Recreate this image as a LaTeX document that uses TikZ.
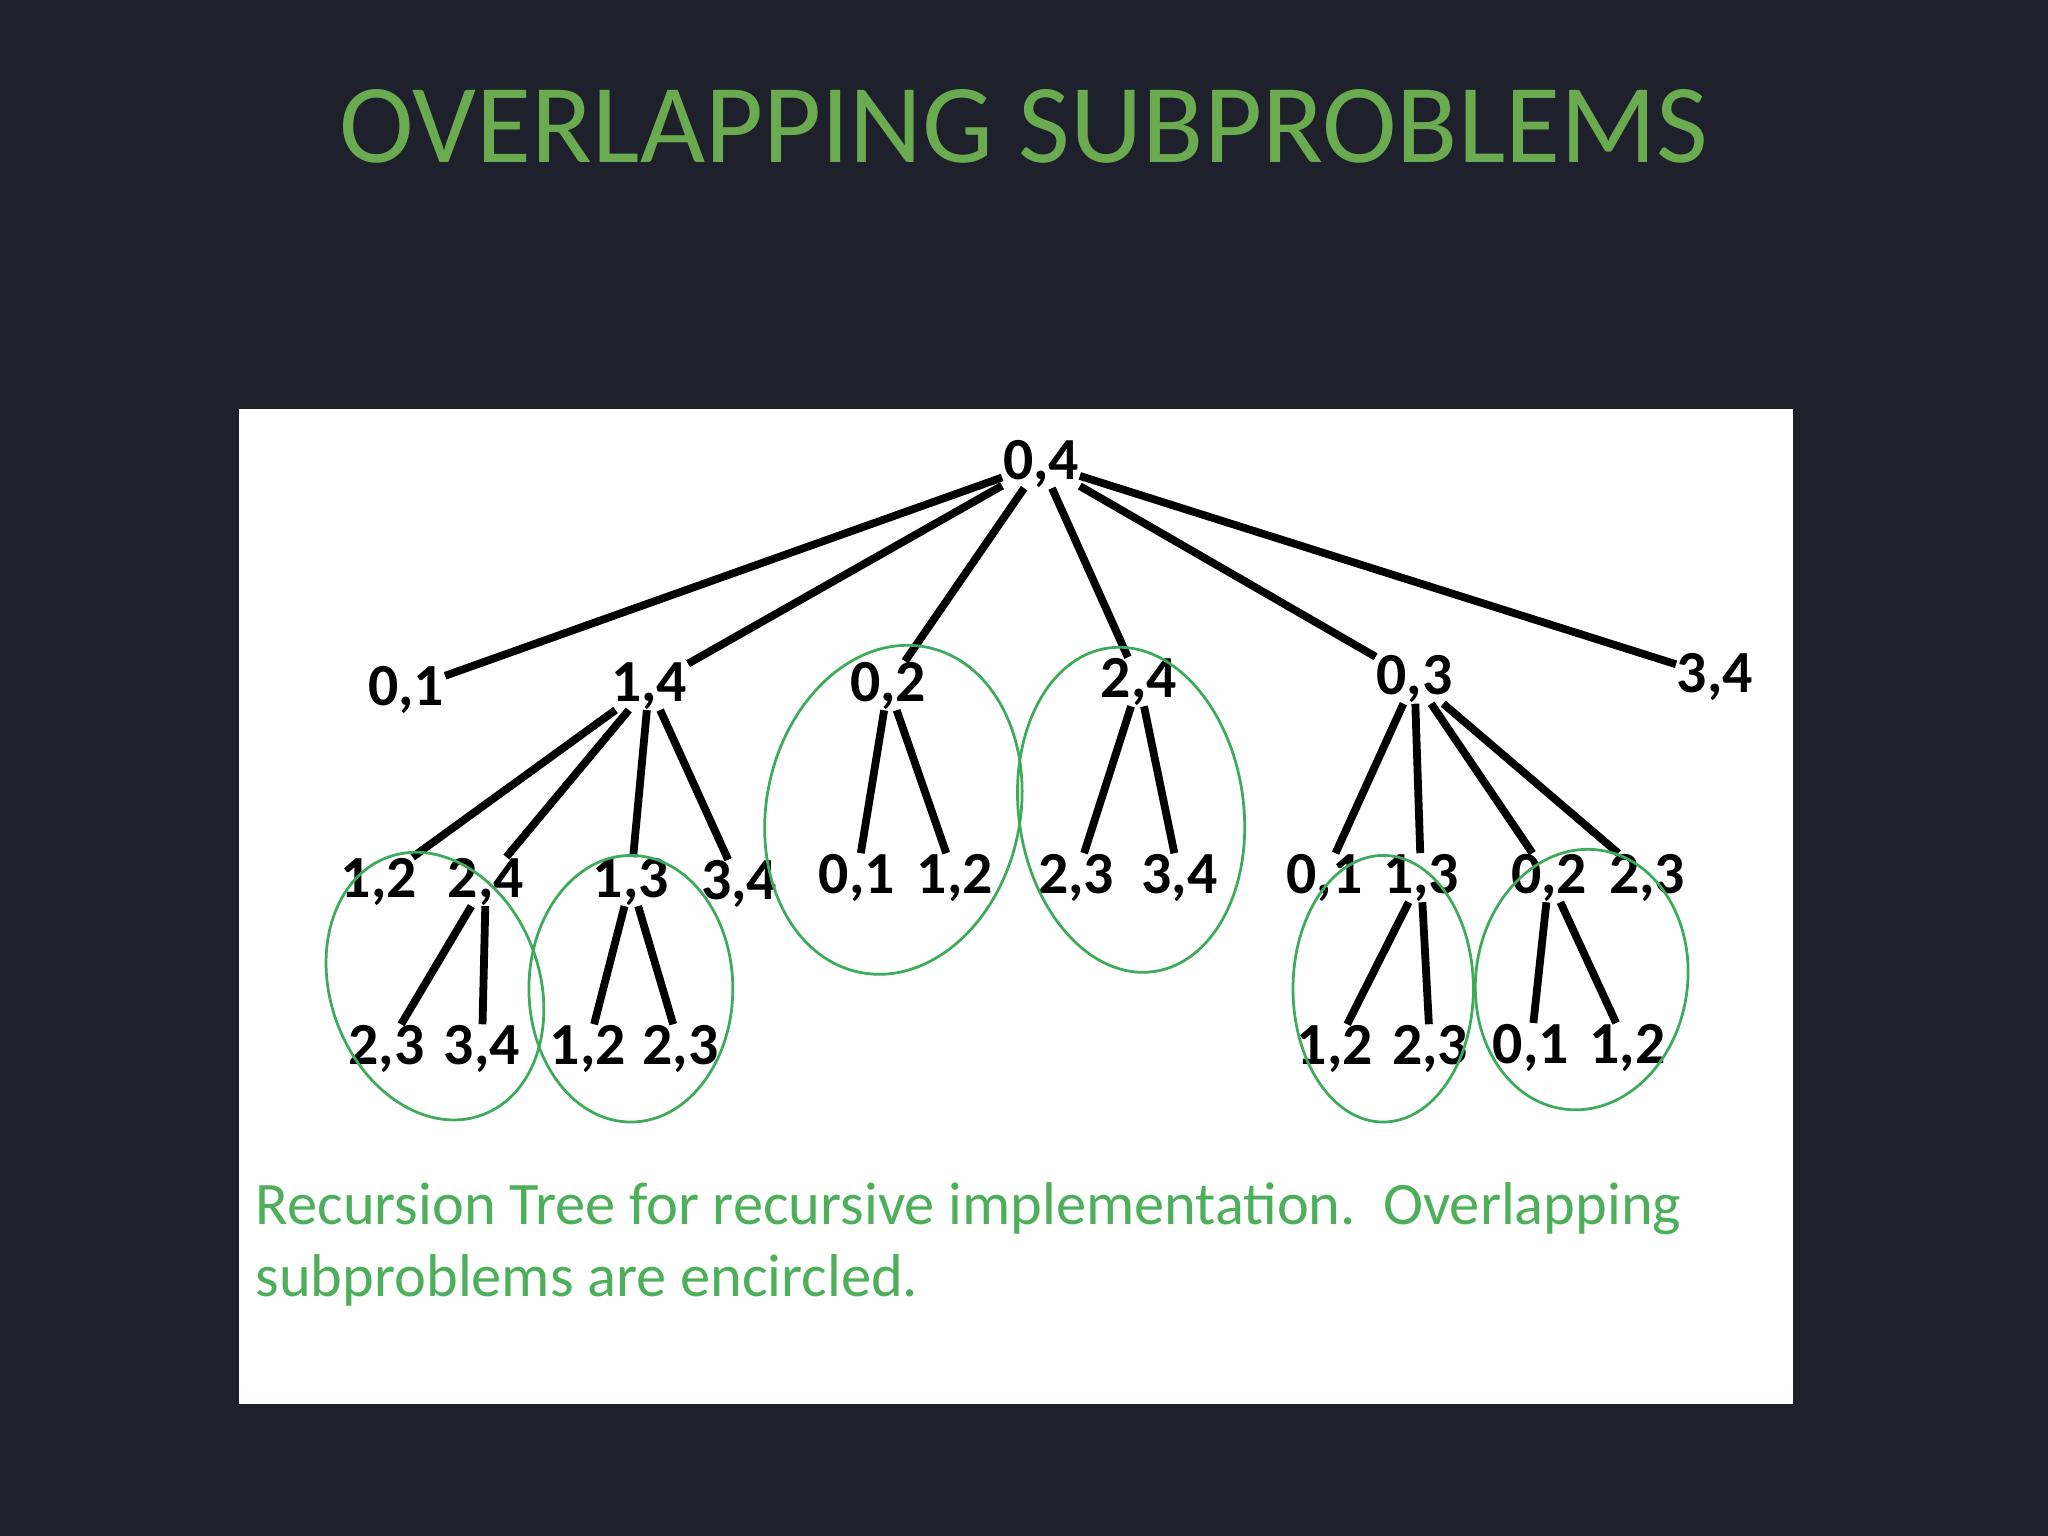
\documentclass[tikz,border=0pt]{standalone}
\usepackage{fontspec}
\setmainfont{Carlito}
\begin{document}
\begin{tikzpicture}[x=0.01cm,y=-0.01cm,
  lbl/.style={font=\bfseries\fontsize{13pt}{15pt}\selectfont,inner sep=0pt,text=black},
  edge/.style={line width=1.7pt,black},
  blob/.style={draw=blobgreen,line width=0.6pt}]
\definecolor{bg}{HTML}{1E202C}
\definecolor{titlegreen}{HTML}{6AAB4F}
\definecolor{blobgreen}{HTML}{3DAA5C}
\definecolor{capgreen}{HTML}{4DAF5A}
\fill[bg] (0,0) rectangle (1568,1176);
\useasboundingbox (0,0) rectangle (1568,1176);
\node[text=titlegreen,font=\fontsize{24.5pt}{28pt}\selectfont] (title) at (784,97) {OVERLAPPING SUBPROBLEMS};
\fill[white] (183,313) rectangle (1373,1075);
% nodes
\node[lbl] (r) at (797,355) {0,4};
\node[lbl] (a1) at (311,528) {0,1};
\node[lbl] (a2) at (497,525) {1,4};
\node[lbl] (a3) at (680,525) {0,2};
\node[lbl] (a4) at (872,522) {2,4};
\node[lbl] (a5) at (1083,520) {0,3};
\node[lbl] (a6) at (1313,518) {3,4};
\node[lbl] (b1) at (290,675) {1,2};
\node[lbl] (b2) at (372,675) {2,4};
\node[lbl] (b3) at (483,675) {1,3};
\node[lbl] (b4) at (566,677) {3,4};
\node[lbl] (b5) at (656,672) {0,1};
\node[lbl] (b6) at (731,672) {1,2};
\node[lbl] (b7) at (824,672) {2,3};
\node[lbl] (b8) at (903,672) {3,4};
\node[lbl] (b9) at (1014,672) {0,1};
\node[lbl] (b10) at (1088,672) {1,3};
\node[lbl] (b11) at (1186,672) {0,2};
\node[lbl] (b12) at (1261,672) {2,3};
\node[lbl] (c1) at (296,803) {2,3};
\node[lbl] (c2) at (369,803) {3,4};
\node[lbl] (c3) at (450,803) {1,2};
\node[lbl] (c4) at (521,803) {2,3};
\node[lbl] (c5) at (1022,803) {1,2};
\node[lbl] (c6) at (1095,803) {2,3};
\node[lbl] (c7) at (1172,802) {0,1};
\node[lbl] (c8) at (1246,802) {1,2};
% edges
\foreach \t in {a1,a2,a3,a4,a5,a6} \draw[edge] (r) -- (\t);
\foreach \t in {b1,b2,b3,b4} \draw[edge] (a2) -- (\t);
\foreach \t in {b5,b6} \draw[edge] (a3) -- (\t);
\foreach \t in {b7,b8} \draw[edge] (a4) -- (\t);
\foreach \t in {b9,b10,b11,b12} \draw[edge] (a5) -- (\t);
\foreach \t in {c1,c2} \draw[edge] (b2) -- (\t);
\foreach \t in {c3,c4} \draw[edge] (b3) -- (\t);
\foreach \t in {c5,c6} \draw[edge] (b10) -- (\t);
\foreach \t in {c7,c8} \draw[edge] (b11) -- (\t);
% encircling
\draw[blob,rotate around={20:(333,755)}] (333,755) ellipse [x radius=0.80cm, y radius=1.05cm];
\draw[blob] (483,757) ellipse [x radius=0.78cm, y radius=1.02cm];
\draw[blob,rotate around={-12:(684,620)}] (684,620) ellipse [x radius=0.97cm, y radius=1.27cm];
\draw[blob,rotate around={8:(866,620)}] (866,620) ellipse [x radius=0.86cm, y radius=1.25cm];
\draw[blob] (1059,757) ellipse [x radius=0.69cm, y radius=1.02cm];
\draw[blob,rotate around={-8:(1211,750)}] (1211,750) ellipse [x radius=0.81cm, y radius=1.00cm];
% caption
\node[text=capgreen,font=\fontsize{13.15pt}{15.5pt}\selectfont,anchor=north west,align=left,inner sep=0pt] (cap) at (195,905)
{Recursion Tree for recursive implementation.\ \ Overlapping\\subproblems are encircled.};
\end{tikzpicture}
\end{document}
